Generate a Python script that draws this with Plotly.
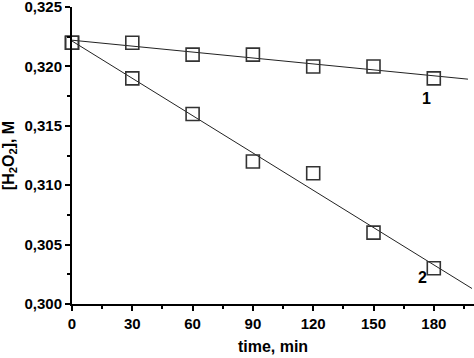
import numpy as np
import plotly.graph_objects as go

time_min = [0, 30, 60, 90, 120, 150, 180]
h2o2_series1 = [0.322, 0.322, 0.321, 0.321, 0.320, 0.320, 0.319]
h2o2_series2 = [0.322, 0.319, 0.316, 0.312, 0.311, 0.306, 0.303]
series_labels = ["1", "2"]
fit_end = [197, 199]

x_tickvals = [0, 30, 60, 90, 120, 150, 180]
x_ticktext = ["0", "30", "60", "90", "120", "150", "180"]
y_tickvals = [0.300, 0.305, 0.310, 0.315, 0.320, 0.325]
y_ticktext = ["0,300", "0,305", "0,310", "0,315", "0,320", "0,325"]

FONT = "Liberation Sans, Arial, sans-serif"
fig = go.Figure()

for ys, xe in zip([h2o2_series1, h2o2_series2], fit_end):
    k, b = np.polyfit(time_min, ys, 1)
    xf = np.array([0, xe])
    fig.add_trace(go.Scatter(x=xf, y=k * xf + b, mode="lines",
                             line=dict(color="#222222", width=1), showlegend=False,
                             hoverinfo="skip"))
    fig.add_trace(go.Scatter(x=time_min, y=ys, mode="markers",
                             marker=dict(symbol="square-open", size=13,
                                         color="#333333", line=dict(width=1.6, color="#333333")),
                             showlegend=False, cliponaxis=False))

label_pos = [(176.3, 0.3173), (174.4, 0.3022)]
for lab, (lx, ly) in zip(series_labels, label_pos):
    fig.add_annotation(x=lx, y=ly, text="<b>%s</b>" % lab, showarrow=False,
                       font=dict(family=FONT, size=16, color="black"))

fig.update_layout(
    width=474, height=358,
    margin=dict(l=72, r=0, t=7, b=54, autoexpand=False),
    paper_bgcolor="white", plot_bgcolor="white",
    font=dict(family=FONT, size=15, color="black"),
)
fig.update_xaxes(
    range=[0, 200], showgrid=False, zeroline=False, automargin=False,
    showline=True, linecolor="black", linewidth=2,
    tickmode="array", tickvals=x_tickvals, ticktext=["<b>%s</b>" % t for t in x_ticktext],
    ticks="outside", ticklen=5, tickwidth=2, tickcolor="black",
    ticklabeloverflow="allow",
    minor=dict(tickmode="linear", tick0=0, dtick=15, ticks="outside", ticklen=3, tickwidth=1.5, tickcolor="black"),
    tickfont=dict(family=FONT, size=15, color="black", weight="bold"),
    title=dict(text="<b>time, min</b>", font=dict(family=FONT, size=16, color="black"), standoff=10),
)
fig.update_yaxes(
    range=[0.29999, 0.32501], showgrid=False, zeroline=False, automargin=False,
    showline=True, linecolor="black", linewidth=2,
    tickmode="array", tickvals=y_tickvals, ticktext=["<b>%s</b>" % t for t in y_ticktext],
    ticks="outside", ticklen=5, tickwidth=2, tickcolor="black",
    ticklabeloverflow="allow",
    minor=dict(tickmode="linear", tick0=0.300, dtick=0.0025, ticks="outside", ticklen=3, tickwidth=1.5, tickcolor="black"),
    tickfont=dict(family=FONT, size=15, color="black", weight="bold"),
    title=dict(text="<b>[H<sub>2</sub>O<sub>2</sub>], M</b>", font=dict(family=FONT, size=16, color="black"), standoff=6),
)

fig.write_html("out.html", config={"displayModeBar": False},
               post_script="document.body.style.margin='0';document.body.style.overflow='hidden';")
